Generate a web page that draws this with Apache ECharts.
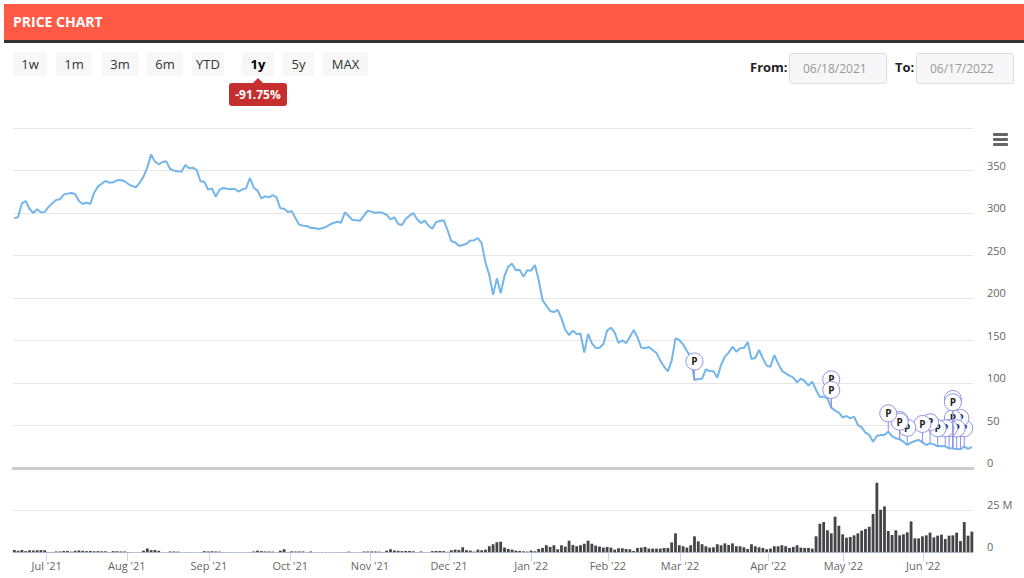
<!DOCTYPE html>
<html>
<head>
<meta charset="utf-8">
<title>Price chart</title>
<script src="https://cdn.jsdelivr.net/npm/echarts@6/dist/echarts.min.js"></script>
<style>
  html, body { margin: 0; padding: 0; background: #fff; }
  body { width: 1024px; height: 578px; overflow: hidden; position: relative; font-family: "Open Sans", sans-serif; }
  #chart { position: absolute; left: 0; top: 0; width: 1024px; height: 578px; }
  .abs { position: absolute; box-sizing: border-box; }
  #head { left: 4px; top: 4px; right: 0; height: 39px; background: #ff5a45; border-bottom: 3px solid #333; color: #fff; font-weight: 700; font-size: 14px; line-height: 36px; padding-left: 9px; }
  .btn { top: 52px; height: 24px; background: #f7f7f7; color: #333; font-size: 13px; line-height: 24px; text-align: center; }
  #tag { left: 229px; top: 83px; width: 58px; height: 23px; background: #c62f2f; color: #fff; border-radius: 3px; font-weight: 700; font-size: 12px; line-height: 23px; text-align: center; }
  #tag:before { content: ""; position: absolute; left: 24px; top: -5px; border-left: 5px solid transparent; border-right: 5px solid transparent; border-bottom: 5px solid #c62f2f; }
  .lbl { top: 58px; font-weight: 700; font-size: 13px; line-height: 19px; color: #222; }
  .inp { top: 53px; height: 31px; background: #f7f7f7; border: 1px solid #ddd; border-radius: 3px; color: #999; font-size: 12px; line-height: 29px; }
  .bar { left: 993px; width: 15px; height: 3px; background: #666; border-radius: 1px; }
</style>
</head>
<body>
<div id="chart"></div>
<div class="abs" id="head">PRICE CHART</div>
<div class="abs btn" style="left:13px;width:34px">1w</div>
<div class="abs btn" style="left:56px;width:36px">1m</div>
<div class="abs btn" style="left:102px;width:36px">3m</div>
<div class="abs btn" style="left:147px;width:36px">6m</div>
<div class="abs btn" style="left:192px;width:32px">YTD</div>
<div class="abs btn" style="left:242px;width:32px;font-weight:700;color:#000">1y</div>
<div class="abs btn" style="left:283px;width:31px">5y</div>
<div class="abs btn" style="left:323px;width:45px">MAX</div>
<div class="abs" id="tag">-91.75%</div>
<div class="abs lbl" style="left:750px">From:</div>
<div class="abs inp" style="left:789px;width:98px;padding-left:13px">06/18/2021</div>
<div class="abs lbl" style="left:895px">To:</div>
<div class="abs inp" style="left:916px;width:98px;padding-left:13px">06/17/2022</div>
<div class="abs bar" style="top:133px"></div>
<div class="abs bar" style="top:138px"></div>
<div class="abs bar" style="top:143px"></div>
<script>
// closing price per trading day
var price2021a = [
  293.7, 295.3, 311.4, 314.1, 304.7, 300, 304.3, 300.8, 301.2, 307.1,
  311.4, 315.3, 316.1, 321.6, 322.8, 323.5, 322.4, 314.1, 310.6, 312.2,
  310.6, 323.9, 331, 334.5, 337.7, 335.7, 336.1, 338.4, 338.8, 337.3,
  334.1, 331.8, 330.2, 335.7, 342.8, 353.7, 369, 360.4, 357.3, 360,
  360.8, 351.8, 349.8, 349, 348.6, 356.5, 352.6, 353.3, 350.6, 337.3,
  336.9, 327.5, 329, 319.2, 327.5, 329.4, 328.6, 327.9, 328.6, 325.1,
  327.9, 329, 341.2, 329.8, 326.3, 317.3, 319.6, 318.4, 321.2, 318.4,
  305.5, 305.1, 301.2, 302.4, 293.7, 286.3, 285.1, 284.7, 282.4, 282.4,
  281.2, 282, 283.5, 286.3, 288.2, 289.8
];
var price2021b = [
  288.6, 300.8, 296.5, 291.8, 291.4, 291, 296.9, 302.7, 301.6, 300,
  300.8, 300, 297.7, 292.6, 294.9, 287.1, 285.9, 293, 296.9, 300,
  292.6, 288.2, 291, 285.1, 281.6, 289.4, 290.6, 291.4, 280, 266.7,
  265.5, 261.2, 262.4, 263.9, 267.5, 267.8, 270.6, 264.3, 241.6, 227.1,
  203.9, 223.1, 205.5, 225.9, 236.9, 240.4, 232.6, 233.3, 225.1, 232.6,
  232.2, 238.8, 221.2, 197.7, 191, 184.7, 183.5, 185.9, 176.1, 162.4,
  156.5, 161.6, 157.7, 158, 135.7, 157.7, 146.7, 141.2, 141.6, 145.5,
  161.6, 165.1, 159.2, 147.1, 150.2, 146.7, 154.1, 162.4, 153.7, 141.6,
  140.8, 142.4, 138.8, 135.3, 126.3, 119.2, 113.7, 126.3, 152.5, 150.6
];
var price2022a = [
  145.5, 137.6, 131, 103.5, 104.7, 105.1, 116.1, 114.1, 113.7, 106.3,
  121.2, 131, 135.7, 142.7, 136.9, 140.8, 141.2, 148.2, 128.2, 129.4,
  138.8, 129, 120.4, 119.2, 132.9, 123.1, 114.5, 111.4, 108.6, 106.3,
  100.8, 105.1, 102.3, 96.9, 101.6, 91.8, 83.5, 83.9, 82, 71,
  67.5, 65.1, 59.6, 61.2, 58.4, 60.4, 50.6, 47.8, 41.6, 38.8
];
var price2022b = [
  31, 37.6, 38.8, 38.8, 42.7, 37.6, 34.9, 33.7, 31, 27.1,
  29.8, 31.8, 33, 30.2, 27.1, 29, 27.8, 25.5, 25.9, 25.5,
  23.1, 22.8, 22.4, 22, 25.1, 22.4, 24.7
];
// volume in millions
var volume2021 = [
  1.4, 0.9, 1.4, 0.7, 1.2, 1.1, 1.2, 1.3, 1.2, 0.2,
  0.2, 0.5, 0.5, 0.7, 0.8, 0.4, 0.9, 1.1, 0.9, 0.7,
  0.8, 0.6, 0.7, 0.6, 0.6, 0.2, 0.7, 0.6, 0.5, 0.5,
  0.2, 0.1, 0.1, 0.1, 1.0, 2.3, 1.3, 1.4, 0.9, 0.1,
  0.1, 0.5, 0.5, 0.4, 0.1, 0.1, 0.1, 0.1, 0.1, 0.1,
  0.7, 0.5, 0.6, 0.5, 0.4, 0.1, 0.1, 0.1, 0.1, 0.1,
  0.1, 0.1, 0.1, 0.5, 1.0, 0.7, 0.5, 0.5, 0.4, 0.1,
  1.0, 1.8, 0.2, 0.6, 0.5, 0.5, 0.5, 0.1, 0.5, 0.1,
  0.1, 0.1, 0.1, 0.1, 0.1, 0.1, 0.1, 0.1, 0.4, 0.1,
  0.1, 0.1, 0.5, 0.5, 0.5, 0.5, 0.4, 0.2, 1.0, 1.8,
  1.1, 0.9, 0.7, 0.8, 0.8, 0.6, 0.1, 0.5, 0.1, 0.1,
  0.7, 0.8, 0.8, 0.7, 0.3, 1.2, 1.6, 1.4, 3.0, 1.3,
  1.0, 0.4, 1.6, 1.2, 1.6, 3.6, 4.8, 6.0, 6.3, 2.8, 2.0
];
var volume2022 = [
  1.6, 1, 0.8, 0.6, 0.4, 1, 0.6, 2, 2.6, 4.2,
  3.2, 4.2, 1.8, 4.2, 3.4, 6.9, 4.4, 3.6, 4.2, 5.1,
  6.9, 5.1, 4, 3.4, 2.8, 3.2, 2.8, 1.6, 2.4, 2.4,
  2, 1.8, 0.8, 2.6, 2.8, 3.2, 2.2, 2.2, 2.2, 2.2,
  2.6, 2.6, 5.9, 11.3, 4.2, 3.6, 2.8, 4.2, 9.5, 6.5,
  4.8, 3.6, 2.8, 3, 4.8, 4.2, 5.3, 4.4, 5.3, 3.6,
  3.6, 3, 2, 4.8, 3.6, 3, 2.6, 1.8, 2.2, 3.6,
  3.6, 4.2, 3.6, 2.6, 3.2, 4.2, 2.8, 2.6, 2.6, 2.2,
  9.5, 17, 18, 13.1, 11.3, 21.2, 15.8, 10.7, 8.7, 9.1,
  10.1, 11.3, 12.9, 13.9, 15.2, 22.8, 41.4, 25.3, 27.3, 12.7,
  10.3, 13.1, 10.1, 10.7, 11.9, 18.4, 8.3, 8.3, 9.5, 10.1,
  11.7, 8.9, 9.9, 10.5, 7.9, 9.9, 10.1, 11.7, 6.7, 18, 9.9, 12.3
];
// month ticks, in trading-day position
var monthLabels = ["Jul '21", "Aug '21", "Sep '21", "Oct '21", "Nov '21", "Dec '21", "Jan '22", "Feb '22", "Mar '22", "Apr '22", "May '22", "Jun '22"];
var monthTicks = [8.5, 29.6, 51.2, 72.6, 93.6, 114.4, 136, 156.2, 175.2, 198.4, 218.2, 239.2];
// "P" flags: trading day and height of the circle, listed back to front
var flagDays = [250, 249, 247, 248, 246, 245, 243, 241, 239, 235, 233, 233, 230, 247, 247, 215, 215, 179];
var flagValues = [46.7, 58.8, 58.8, 46.7, 47, 46.7, 46.7, 53.8, 51.8, 47.4, 56.5, 54.5, 64.3, 81.2, 77.3, 104.3, 91.8, 125.3];

var closes = price2021a.concat(price2021b, price2022a, price2022b);
var volumes = volume2021.concat(volume2022);
var muted = '#666666';
var rule = '#e6e6e6';
var axisBlue = '#ccd6eb';
var xMin = -0.35;
var xMax = 252.3;

function pairs(values) {
  return values.map(function(v, i) { return [i, v]; });
}

var chart = echarts.init(document.getElementById('chart'), null, { renderer: 'svg' });
chart.setOption({
  animation: false,
  grid: [
    { left: 13, right: 51, top: 128, height: 340 },
    { left: 13, right: 51, top: 468.3, height: 84 }
  ],
  xAxis: [
    {
      type: 'value', gridIndex: 0, min: xMin, max: xMax,
      splitLine: { show: false },
      axisTick: { show: false },
      axisLabel: { show: false },
      axisLine: { show: true, onZero: false, lineStyle: { color: '#cccccc', width: 3 } }
    },
    {
      type: 'value', gridIndex: 1, min: xMin, max: xMax,
      splitLine: { show: false },
      axisLine: { show: true, lineStyle: { color: axisBlue } },
      axisTick: { show: true, length: 9, lineStyle: { color: axisBlue }, customValues: monthTicks },
      axisLabel: {
        color: muted, fontSize: 11, fontFamily: 'Open Sans', margin: 8,
        customValues: monthTicks,
        formatter: function(v) { return monthLabels[monthTicks.indexOf(v)]; }
      }
    }
  ],
  yAxis: [
    {
      type: 'value', gridIndex: 0, position: 'right', min: 0, max: 400, interval: 50,
      splitLine: { lineStyle: { color: rule } },
      axisLine: { show: false },
      axisTick: { show: false },
      axisLabel: {
        color: muted, fontSize: 11, fontFamily: 'Open Sans', align: 'left', margin: 14,
        verticalAlign: 'bottom',
        formatter: function(v) { return v === 400 ? '' : String(v); }
      }
    },
    {
      type: 'value', gridIndex: 1, position: 'right', min: 0, max: 50, interval: 25,
      splitLine: { lineStyle: { color: rule } },
      axisLine: { show: false },
      axisTick: { show: false },
      axisLabel: {
        color: muted, fontSize: 11, fontFamily: 'Open Sans', align: 'left', margin: 14,
        verticalAlign: 'bottom',
        formatter: function(v) { return v === 50 ? '' : (v === 0 ? '0' : v + ' M'); }
      }
    }
  ],
  series: [
    {
      name: 'Price', type: 'line', xAxisIndex: 0, yAxisIndex: 0,
      data: pairs(closes),
      showSymbol: false,
      lineStyle: { color: '#74b5ea', width: 2 },
      z: 3
    },
    {
      name: 'Volume', type: 'bar', xAxisIndex: 1, yAxisIndex: 1,
      data: pairs(volumes),
      barWidth: 2.8,
      itemStyle: { color: '#434348' }
    },
    {
      name: 'Flags', type: 'custom', xAxisIndex: 0, yAxisIndex: 0,
      data: flagDays.map(function(d, i) { return [d, flagValues[i], closes[d]]; }),
      encode: { x: 0, y: 1 },
      clip: false,
      z: 5,
      renderItem: function(params, api) {
        var c = api.coord([api.value(0), api.value(1)]);
        var foot = api.coord([api.value(0), api.value(2)]);
        return {
          type: 'group',
          children: [
            { type: 'line', shape: { x1: c[0], y1: c[1], x2: foot[0], y2: foot[1] }, style: { stroke: '#8f92e8', lineWidth: 1 } },
            { type: 'circle', shape: { cx: c[0], cy: c[1], r: 8.5 }, style: { fill: '#ffffff', stroke: '#8f92e8', lineWidth: 1 } },
            { type: 'text', style: { x: c[0], y: c[1], text: 'P', align: 'center', verticalAlign: 'middle', fill: '#222222', font: 'bold 10px "Open Sans"' } }
          ]
        };
      }
    }
  ]
});
window.addEventListener('resize', function() { chart.resize(); });
</script>
</body>
</html>
